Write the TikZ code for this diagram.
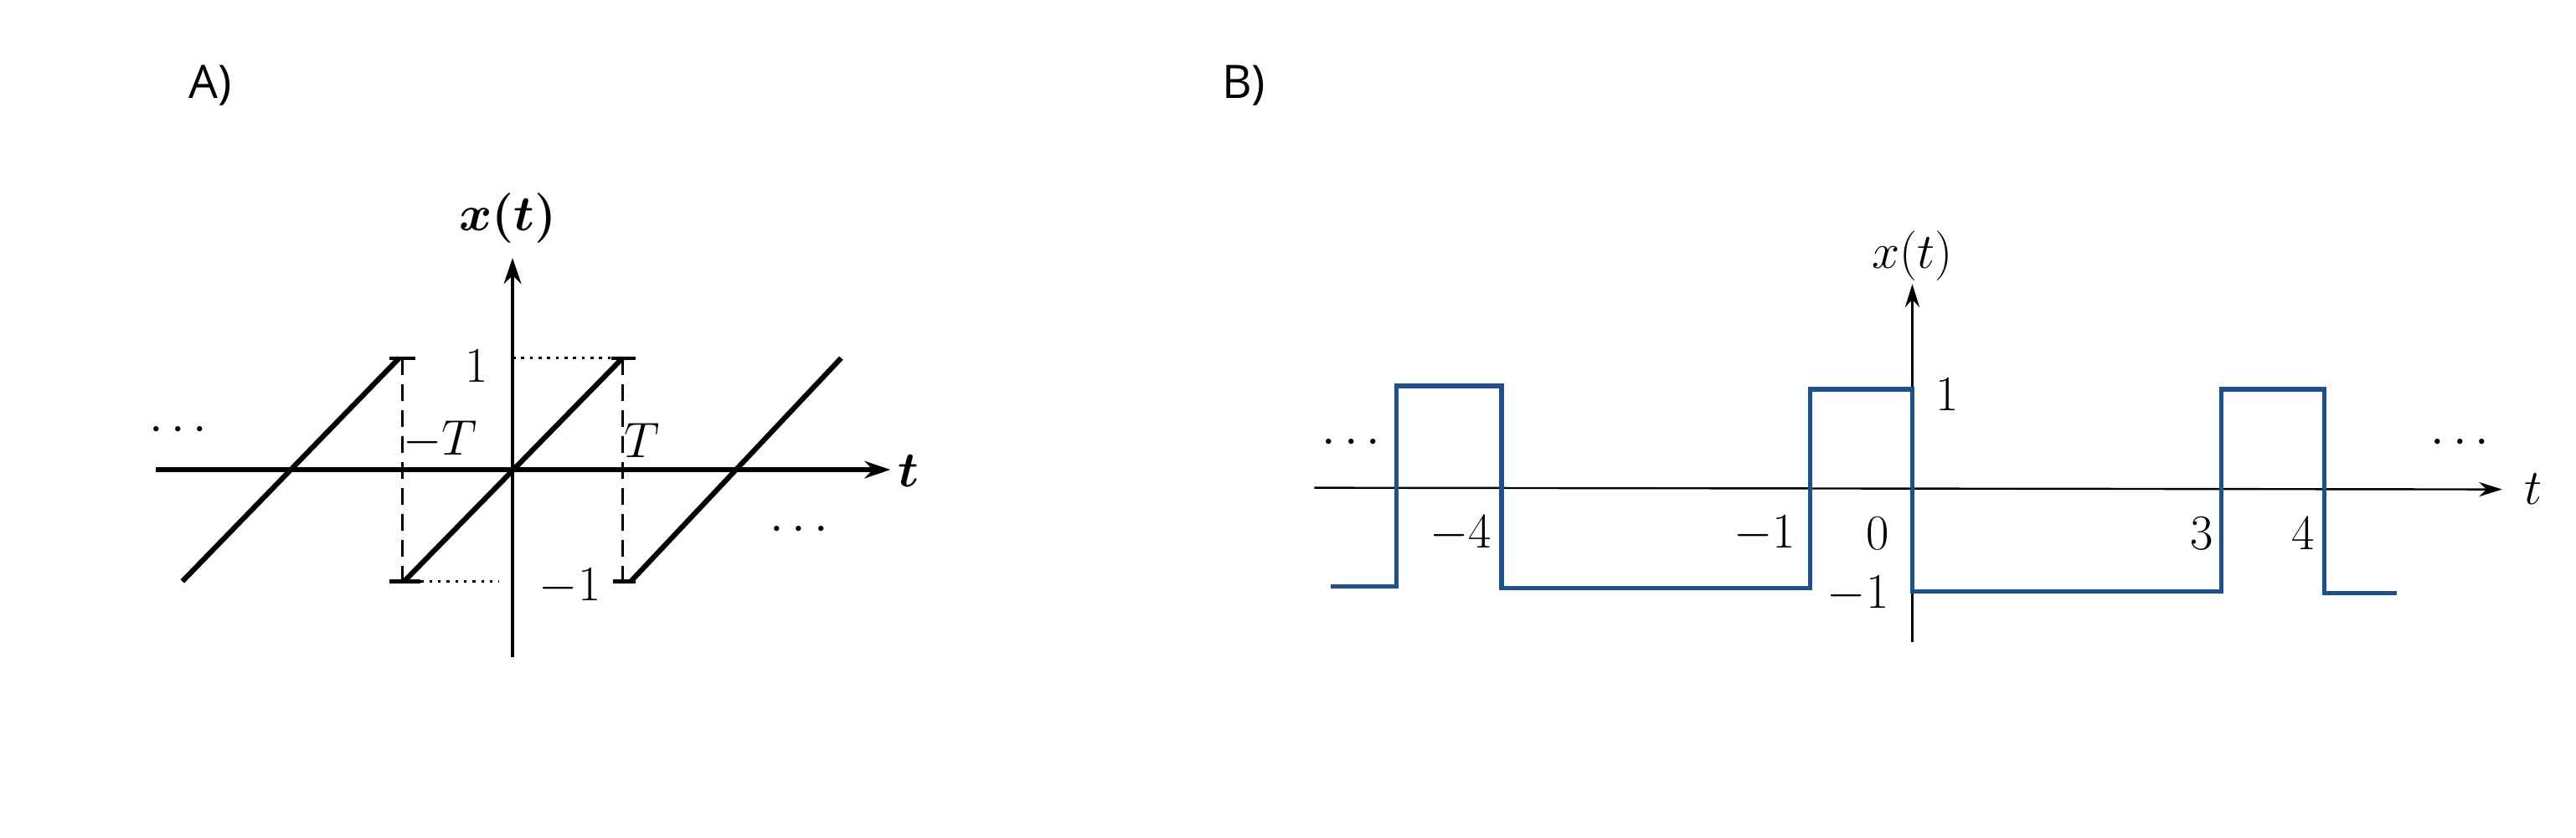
\documentclass[tikz,border=0pt]{standalone}
\usepackage{amsmath,bm}
\usepackage{fontspec}
\newfontfamily\lblfont{Open Sans}
\usetikzlibrary{arrows.meta}
\definecolor{sigblue}{RGB}{30,80,140}
\begin{document}
\begin{tikzpicture}[x=0.02cm,y=-0.02cm,
  thk/.style={line width=1.8pt},
  axA/.style={line width=1.6pt,-{Stealth[length=9pt,width=6pt]}},
  axB/.style={line width=0.7pt,-{Stealth[length=8pt,width=5pt]}},
  sig/.style={sigblue,line width=1.5pt},
  lblA/.style={font=\fontsize{18}{20}\selectfont},
  lblB/.style={font=\fontsize{17}{19}\selectfont},
  panel/.style={font=\lblfont\fontsize{16}{18}\selectfont}]
\useasboundingbox (0,0) rectangle (1568,510);
\node[panel] (pa) at (128,52) {A)};
\node[panel] (pb) at (757,52) {B)};
% ---- A ----
\coordinate (al) at (95,286); \coordinate (ar) at (542,286);
\coordinate (ab) at (312,400); \coordinate (at) at (312,157);
\draw[axA] (al) -- (ar);
\draw[line width=1.4pt,-{Stealth[length=9pt,width=6pt]}] (ab) -- (at);
\node[lblA] (tA) at (553,287) {$\bm{t}$};
\node[lblA] (xA) at (309,133) {$\bm{x(t)}$};
\coordinate (l1) at (111,354); \coordinate (l2) at (243,218);
\coordinate (m1) at (246,354); \coordinate (m2) at (379,218);
\coordinate (r1) at (384,354); \coordinate (r2) at (512,218);
\draw[thk] (l1) -- (l2);
\draw[thk] (m1) -- (m2);
\draw[thk] (r1) -- (r2);
\draw[line width=1.2pt] (237,218) -- (253,218) (372,218) -- (387,218)
  (237,354) -- (256,354) (373,354) -- (387,354);
\draw[dashed,line width=0.8pt,dash pattern=on 6pt off 3pt] (245,218) -- (245,354) (379,218) -- (379,354);
\draw[dotted,line width=1pt] (312,218) -- (372,218) (256,354) -- (304,354);
\node[lblA] (one) at (290,223) {$1$};
\node[lblA] (mone) at (347,357) {$-1$};
\node[lblA] (mT) at (268,268) {$-T$};
\node[lblA] (pT) at (391,268) {$T$};
\node[lblA] (d1) at (111,262) {$\cdots$};
\node[lblA] (d2) at (489,323) {$\cdots$};
% ---- B ----
\coordinate (bl) at (800,297); \coordinate (br) at (1523,298);
\coordinate (bb) at (1164,391); \coordinate (bt) at (1164,173);
\draw[axB] (bl) -- (br);
\draw[axB] (bb) -- (bt);
\node[lblB] (tB) at (1542,298) {$t$};
\node[lblB] (xB) at (1164,156) {$x(t)$};
\draw[sig] (810,357) -- (850,357) -- (850,235) -- (914,235) -- (914,358)
  -- (1102,358) -- (1102,237) -- (1164,237) -- (1164,360) -- (1352,360)
  -- (1352,237) -- (1415,237) -- (1415,361) -- (1459,361);
\node[lblB] (bm4) at (889,325) {$-4$};
\node[lblB] (bm1) at (1074,325) {$-1$};
\node[lblB] (b0) at (1143,325) {$0$};
\node[lblB] (b3) at (1340,325) {$3$};
\node[lblB] (b4) at (1402,325) {$4$};
\node[lblB] (b1) at (1185,240) {$1$};
\node[lblB] (bn1) at (1131,362) {$-1$};
\node[lblB] (bd1) at (825,270) {$\cdots$};
\node[lblB] (bd2) at (1500,270) {$\cdots$};
\end{tikzpicture}
\end{document}
